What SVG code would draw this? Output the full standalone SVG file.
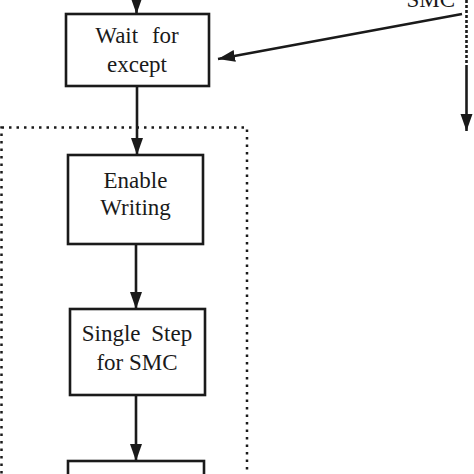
<svg xmlns="http://www.w3.org/2000/svg" width="474" height="474" viewBox="0 0 474 474">
<style>
.box{fill:#fff;stroke:#1a1a1a;stroke-width:2.6}
.t{font-family:"Liberation Serif","Times New Roman",serif;font-size:23px;fill:#1a1a1a;text-anchor:middle}
.c{stroke:#1a1a1a;stroke-width:2.6;fill:none}
</style>
<defs>
<marker id="ah" markerUnits="userSpaceOnUse" markerWidth="18" markerHeight="13" refX="17" refY="6" orient="auto">
<path d="M0,0 L17,6 L0,12 Z" fill="#1a1a1a"/>
</marker>
</defs>
<rect width="474" height="474" fill="#fff"/>
<g id="dotted-frame">
<rect x="1.5" y="127.5" width="245.5" height="400" fill="none" stroke="#1a1a1a" stroke-width="2.5" stroke-dasharray="2.5,5"/>
</g>
<g id="connectors">
<line class="c" x1="136.5" y1="-5" x2="136.5" y2="14" marker-end="url(#ah)"/>
<line class="c" x1="137" y1="86" x2="137" y2="155" marker-end="url(#ah)"/>
<line class="c" x1="136" y1="244" x2="136" y2="309" marker-end="url(#ah)"/>
<line class="c" x1="136" y1="395" x2="136" y2="461" marker-end="url(#ah)"/>
<line class="c" x1="462" y1="14" x2="218" y2="59" marker-end="url(#ah)"/>
<line x1="466.5" y1="-5" x2="466.5" y2="65" stroke="#1a1a1a" stroke-width="2.6" stroke-dasharray="3,2"/>
<line class="c" x1="466.5" y1="65" x2="466.5" y2="131" marker-end="url(#ah)"/>
</g>
<g id="smc-label">
<text class="t" x="455" y="7" style="text-anchor:end">SMC</text>
</g>
<g id="wait-for-except">
<rect class="box" x="66" y="14" width="143" height="72"/>
<text class="t" x="137" y="43" word-spacing="8">Wait for</text>
<text class="t" x="137" y="72">except</text>
</g>
<g id="enable-writing">
<rect class="box" x="68" y="155" width="135" height="89"/>
<text class="t" x="135.5" y="188">Enable</text>
<text class="t" x="135.5" y="215">Writing</text>
</g>
<g id="single-step">
<rect class="box" x="70" y="309" width="135" height="86"/>
<text class="t" x="137" y="341" word-spacing="5">Single Step</text>
<text class="t" x="137" y="370">for SMC</text>
</g>
<g id="next-step">
<rect class="box" x="68" y="461" width="136" height="30"/>
</g>
</svg>
